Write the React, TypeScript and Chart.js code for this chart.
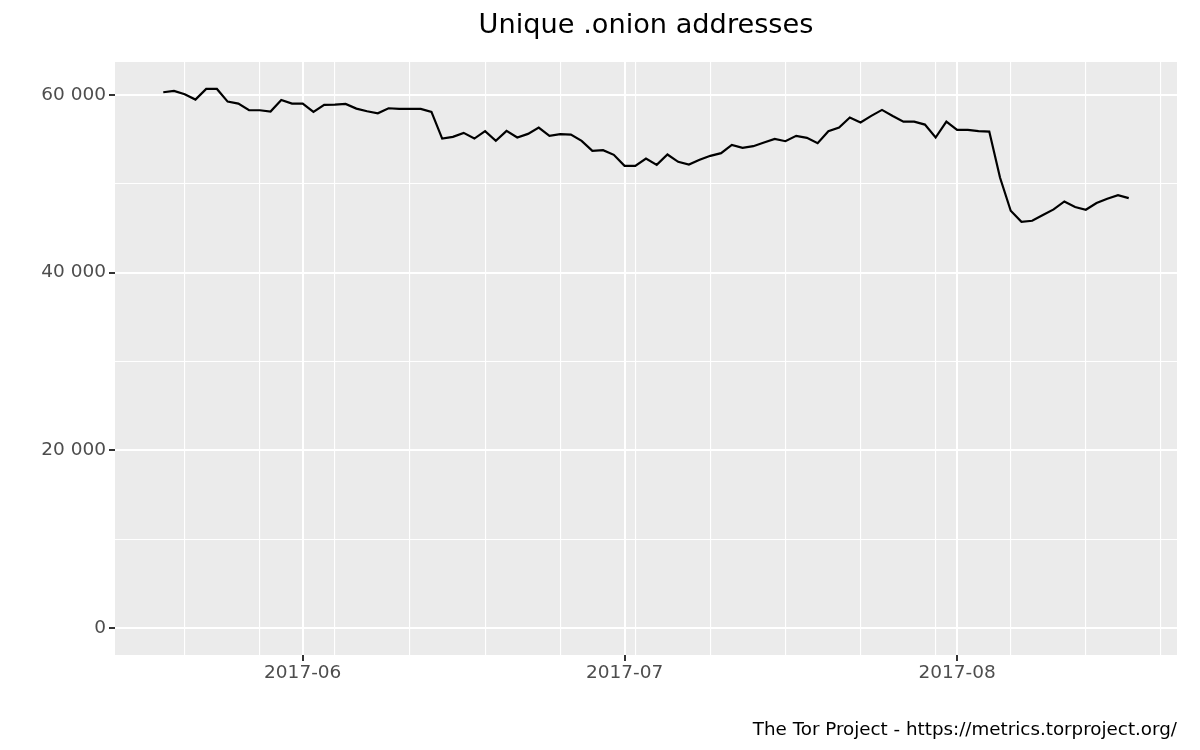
import { useEffect, useRef } from "react";
import { Chart, registerables } from "chart.js";

Chart.register(...registerables);

const TITLE = "Unique .onion addresses";
const CAPTION = "The Tor Project - https://metrics.torproject.org/";
const START_DATE = "2017-05-19";
const VALUES = [
  60303, 60449, 60075, 59475, 60674, 60674, 59250, 59026, 58280, 58280,
  58127, 59438, 59026, 59026, 58090, 58876, 58910, 58989, 58464, 58165,
  57940, 58500, 58427, 58427, 58427, 58090, 55090, 55280, 55730, 55090,
  55920, 54830, 55955, 55206, 55618, 56330, 55393, 55580, 55543, 54830,
  53708, 53783, 53258, 52022, 52022, 52846, 52135, 53296, 52472, 52172,
  52696, 53146, 53446, 54382, 54045, 54232, 54644, 55056, 54793, 55393,
  55168, 54569, 55918, 56330, 57454, 56892, 57640, 58315, 57640, 57000,
  57000, 56664, 55206, 57000, 56067, 56067, 55918, 55880, 50712, 46966,
  45730, 45843, 46480, 47115, 48015, 47380, 47080, 47830, 48315, 48727,
  48390,
];
const MONTH_TICKS = ["2017-06-01", "2017-07-01", "2017-08-01"];
const WEEK_TICKS = [
  "2017-05-21", "2017-05-28", "2017-06-04", "2017-06-11", "2017-06-18",
  "2017-06-25", "2017-07-02", "2017-07-09", "2017-07-16", "2017-07-23",
  "2017-07-30", "2017-08-06", "2017-08-13", "2017-08-20",
];
const Y_MAJOR = [0, 20000, 40000, 60000];
const Y_MINOR = [10000, 30000, 50000];

const FONT = '"DejaVu Sans", "Noto Sans", sans-serif';

function dayNum(s: string): number {
  const [y, m, d] = s.split("-").map(Number);
  return Date.UTC(y, m - 1, d) / 86400000;
}
function monthLabel(n: number): string {
  return new Date(n * 86400000).toISOString().slice(0, 7);
}
function fmtThousands(v: number): string {
  return String(v).replace(/\B(?=(\d{3})+(?!\d))/g, " ");
}

export default function App() {
  const ref = useRef<HTMLCanvasElement | null>(null);

  useEffect(() => {
    if (!ref.current) return;
    const start = dayNum(START_DATE);
    const points = VALUES.map((v, i) => ({ x: start + i, y: v }));
    const first = start;
    const last = start + VALUES.length - 1;
    const xPad = (last - first) * 0.05;
    const yMaxData = Math.max(...VALUES);
    const yPad = yMaxData * 0.05;

    const monthNums = MONTH_TICKS.map(dayNum);
    const weekNums = WEEK_TICKS.map(dayNum);
    const monthSet = new Set(monthNums);
    const allX = [...monthNums, ...weekNums].sort((a, b) => a - b);
    const yMajorSet = new Set(Y_MAJOR);
    const allY = [...Y_MAJOR, ...Y_MINOR].sort((a, b) => a - b);

    const panelPlugin = {
      id: "panelPlugin",
      beforeDraw(chart: any) {
        const { ctx, chartArea: a } = chart;
        ctx.save();
        ctx.fillStyle = "#FFFFFF";
        ctx.fillRect(0, 0, chart.width, chart.height);
        ctx.fillStyle = "#EBEBEB";
        ctx.fillRect(a.left, a.top, a.right - a.left, a.bottom - a.top);
        ctx.restore();
      },
      afterDraw(chart: any) {
        const { ctx, chartArea: a } = chart;
        ctx.save();
        ctx.fillStyle = "#000000";
        ctx.font = `27.2px ${FONT}`;
        ctx.textAlign = "center";
        ctx.textBaseline = "alphabetic";
        ctx.fillText(TITLE, (a.left + a.right) / 2, 33);
        ctx.font = `18.3px ${FONT}`;
        ctx.textAlign = "right";
        ctx.fillText(CAPTION, a.right, 735);
        ctx.restore();
      },
    };

    const chart = new Chart(ref.current, {
      type: "line",
      data: {
        datasets: [
          {
            data: points,
            borderColor: "#000000",
            borderWidth: 2.2,
            pointRadius: 0,
            tension: 0,
            fill: false,
          },
        ],
      },
      options: {
        animation: false,
        responsive: false,
        maintainAspectRatio: false,
        layout: { padding: { left: 0, right: 23, top: 62, bottom: 55 } },
        plugins: {
          legend: { display: false },
          tooltip: { enabled: false },
          title: { display: false },
        },
        scales: {
          x: {
            type: "linear",
            min: first - xPad,
            max: last + xPad,
            border: { display: false },
            afterFit(scale: any) {
              scale.height = 40;
            },
            afterBuildTicks(scale: any) {
              scale.ticks = allX.map((v) => ({ value: v }));
            },
            grid: {
              color: "#FFFFFF",
              lineWidth: (c: any) => (c.tick && monthSet.has(c.tick.value) ? 2 : 1.1),
              tickColor: (c: any) =>
                c.tick && monthSet.has(c.tick.value) ? "#333333" : "rgba(0,0,0,0)",
              tickWidth: 2,
              tickLength: 6,
              drawTicks: true,
            },
            ticks: {
              autoSkip: false,
              maxRotation: 0,
              minRotation: 0,
              padding: 1.5,
              color: "#4D4D4D",
              font: { family: FONT, size: 18.5 },
              callback: (v: any) => (monthSet.has(Number(v)) ? monthLabel(Number(v)) : ""),
            },
          },
          y: {
            type: "linear",
            min: -yPad,
            max: yMaxData + yPad,
            border: { display: false },
            afterFit(scale: any) {
              scale.width = 115;
            },
            afterBuildTicks(scale: any) {
              scale.ticks = allY.map((v) => ({ value: v }));
            },
            grid: {
              color: "#FFFFFF",
              lineWidth: (c: any) => (c.tick && yMajorSet.has(c.tick.value) ? 2 : 1.1),
              tickColor: (c: any) =>
                c.tick && yMajorSet.has(c.tick.value) ? "#333333" : "rgba(0,0,0,0)",
              tickWidth: 2,
              tickLength: 6,
              drawTicks: true,
            },
            ticks: {
              autoSkip: false,
              padding: 3,
              color: "#4D4D4D",
              font: { family: FONT, size: 18.5 },
              callback: (v: any) => (yMajorSet.has(Number(v)) ? fmtThousands(Number(v)) : ""),
            },
          },
        },
      },
      plugins: [panelPlugin],
    } as any);

    return () => chart.destroy();
  }, []);

  return (
    <div style={{ position: "fixed", left: 0, top: 0, width: 1200, height: 750, background: "#fff" }}>
      <canvas ref={ref} width={1200} height={750} style={{ display: "block", width: 1200, height: 750 }} />
    </div>
  );
}
